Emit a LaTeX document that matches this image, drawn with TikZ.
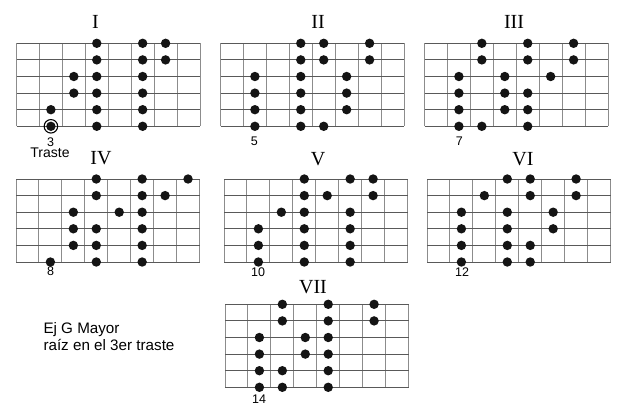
\documentclass[tikz,border=0pt]{standalone}
\usepackage{fontspec}
\setmainfont{Liberation Serif}
\setsansfont{Liberation Sans}
\tikzset{
  fretline/.style={draw=black!45, line width=0.9pt},
  stringline/.style={draw=black!65, line width=0.9pt},
  fdot/.style={circle, fill=black!92, inner sep=0pt, minimum size=9.4pt},
  rootring/.style={circle, draw=black, line width=1.1pt, inner sep=0pt, minimum size=13.5pt},
  title/.style={font=\fontsize{20}{20}\selectfont, inner sep=0pt},
  fretnum/.style={font=\sffamily\fontsize{12.5}{12.5}\selectfont, inner sep=0pt},
  note/.style={font=\sffamily\fontsize{15.2}{17}\selectfont, inner sep=0pt, anchor=base west}
}
\newcommand\fretboard[4]{%
  \begin{scope}[shift={(#2,#3)}]
    \foreach \i in {0,...,8} \draw[fretline] (\i*22.9375,0) -- (\i*22.9375,83);
    \foreach \j in {0,...,5} \draw[stringline] (0,\j*16.6) -- (183.5,\j*16.6);
    \foreach \c/\r in {#4} \node[fdot] (#1-\c-\r) at ({(\c+0.5)*22.9375},\r*16.6) {};
  \end{scope}}
\begin{document}
\begin{tikzpicture}[x=1pt,y=-1pt]
  \useasboundingbox (0,0) rectangle (620,407);
  \fill[white] (0,0) rectangle (620,407);
  % I
  \fretboard{a}{16.5}{43.3}{3/0,3/1,3/2,3/3,3/4,3/5,5/0,5/1,5/2,5/3,5/4,5/5,6/0,6/1,2/2,2/3,1/4,1/5}
  \node[rootring] (aroot) at (a-1-5) {};
  \node[title] (tI) at (95.5,21.5) {I};
  \node[fretnum] (nI) at (50.7,142) {3};
  \node[fretnum, font=\sffamily\fontsize{14}{14}\selectfont] (trI) at (50,153.2) {Traste};
  % II
  \fretboard{b}{220.5}{43.3}{1/2,1/3,1/4,1/5,3/0,3/1,3/2,3/3,3/4,3/5,4/0,4/1,4/5,5/2,5/3,5/4,6/0,6/1}
  \node[title] (tII) at (318,21.5) {II};
  \node[fretnum] (nII) at (254.3,141) {5};
  % III
  \fretboard{c}{424.5}{43.3}{1/2,1/3,1/4,1/5,2/0,2/1,2/5,3/2,3/3,3/4,4/0,4/1,4/3,4/4,4/5,5/2,6/0,6/1}
  \node[title] (tIII) at (514,21.5) {III};
  \node[fretnum] (nIII) at (459.3,141) {7};
  % IV
  \fretboard{d}{16}{179}{3/0,3/1,3/3,3/4,3/5,5/0,5/1,5/2,5/3,5/4,5/5,6/1,7/0,2/2,2/3,2/4,4/2,1/5}
  \node[title] (tIV) at (101,158.3) {IV};
  \node[fretnum] (nIV) at (50.5,271.5) {8};
  % V
  \fretboard{e}{224}{179}{3/0,3/1,3/2,3/3,3/4,3/5,4/1,5/0,5/2,5/3,5/4,5/5,6/0,6/1,2/2,1/3,1/4,1/5}
  \node[title] (tV) at (318,158.8) {V};
  \node[fretnum] (nV) at (258,272) {10};
  % VI
  \fretboard{f}{427}{179}{3/0,3/2,3/3,3/4,3/5,4/0,4/1,4/4,4/5,6/0,6/1,2/1,1/2,1/3,1/4,1/5,5/2,5/3}
  \node[title] (tVI) at (523,159.5) {VI};
  \node[fretnum] (nVI) at (462,272) {12};
  % VII
  \fretboard{g}{225}{304.3}{2/0,2/1,2/4,2/5,4/0,4/1,4/2,4/3,4/4,4/5,6/0,6/1,1/2,1/3,1/4,1/5,3/2,3/3}
  \node[title] (tVII) at (313,287.5) {VII};
  \node[fretnum] (nVII) at (259,399.5) {14};
  % note
  \node[note] (note1) at (43.3,333.3) {Ej G Mayor};
  \node[note] (note2) at (43.3,350) {raíz en el 3er traste};
\end{tikzpicture}
\end{document}
